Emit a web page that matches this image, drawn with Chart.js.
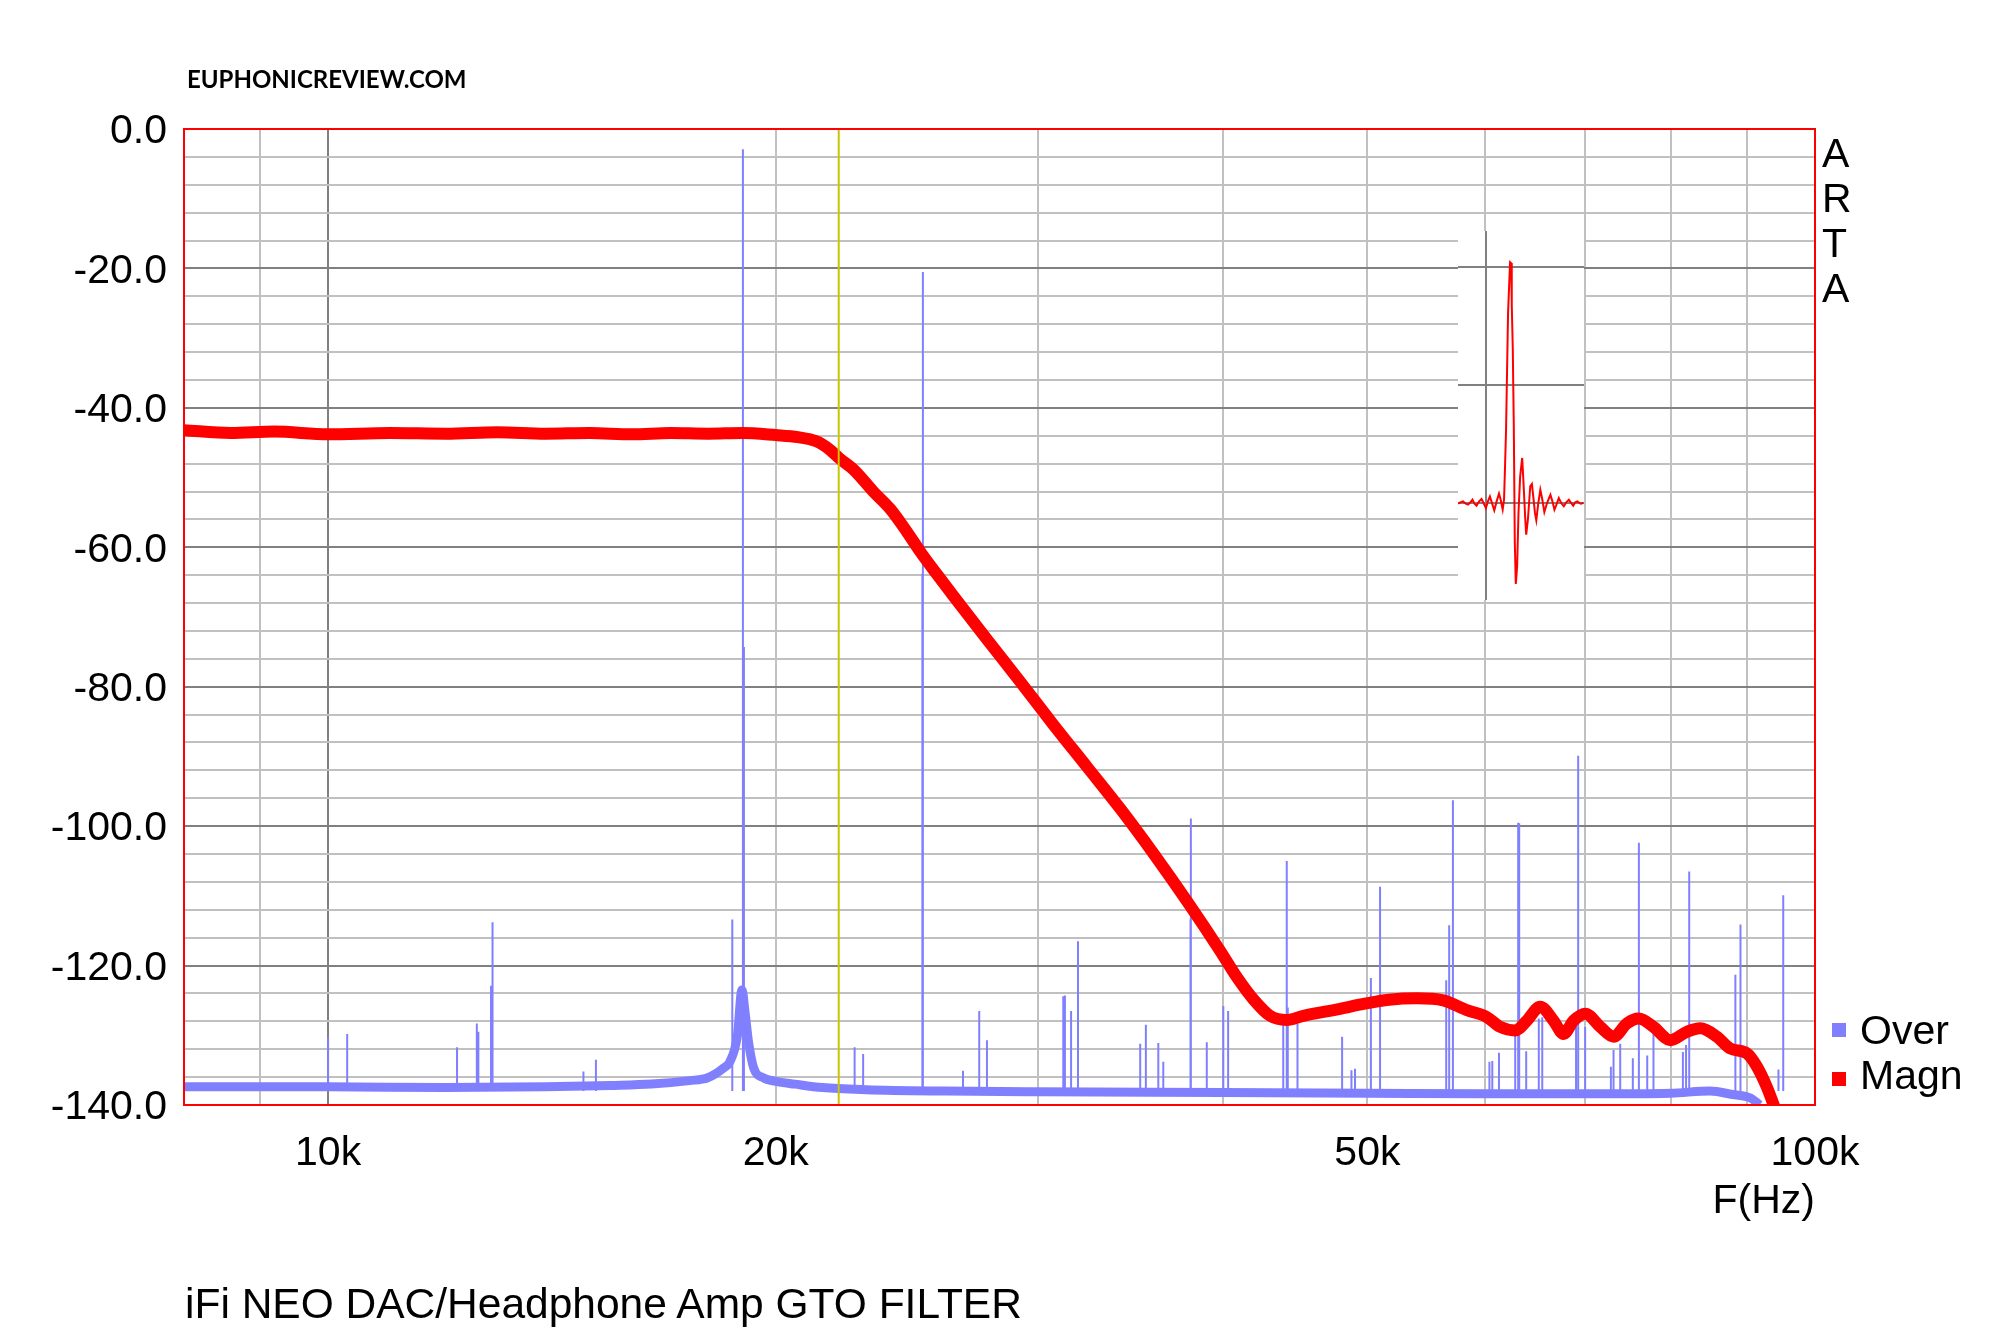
<!DOCTYPE html>
<html><head><meta charset="utf-8">
<script src="https://cdn.jsdelivr.net/npm/chart.js@4.4.1/dist/chart.umd.min.js"></script>
<style>
html,body{margin:0;padding:0;background:#fff;}
#wrap{position:relative;width:2000px;height:1331px;overflow:hidden;background:#fff;}
.t{position:absolute;font-family:"Liberation Sans",Arial,sans-serif;color:#000;white-space:nowrap;line-height:1;}
.sq{position:absolute;width:14px;height:14px;}
</style></head><body>
<div id="wrap">
<canvas id="main" width="2000" height="1331" style="position:absolute;left:0;top:0;"></canvas>
<canvas id="inset" width="126" height="369" style="position:absolute;left:1458px;top:231px;"></canvas>
<div class="t" style="left:187px;top:67px;font-family:Lato,'Open Sans',sans-serif;font-weight:700;font-size:24px;">EUPHONICREVIEW.COM</div>
<div class="t" style="left:1822px;top:131px;font-size:41px;line-height:45px;">A<br>R<br>T<br>A</div>
<div class="sq" style="left:1832px;top:1023px;background:#8080FF;"></div>
<div class="t" style="left:1860px;top:1010px;font-size:41px;">Over</div>
<div class="sq" style="left:1832px;top:1072px;background:#FF0000;"></div>
<div class="t" style="left:1860px;top:1055px;font-size:41px;">Magn</div>
<div class="t" style="right:185px;top:1179px;font-size:41px;">F(Hz)</div>
<div class="t" style="left:185px;top:1283px;font-size:42.5px;">iFi NEO DAC/Headphone Amp GTO FILTER</div>
</div>
<script>
// ---------- DATA ----------
const xGridFreq = [9000,10000,20000,30000,40000,50000,60000,70000,80000,90000,100000];
const xLabelFreq = [10000,20000,50000,100000];
const xLabelText = ['10k','20k','50k','100k'];
const cursorFreq = 22050;

// Magn (red) frequency response
const magnFreq = [8000,8600,9200,10000,11000,12000,13000,14000,15000,16000,17000,18000,19000,20000,20700,21300,21750,22060,22600,23260,23880,24510,25050,25700,26340,27740,29210,30760,32390,34100,35920,37820,39810,40860,41930,43000,44130,45290,47940,49700,51700,54000,56230,58330,60170,61420,62860,64010,65340,66700,67750,68810,70070,71710,73210,74740,76100,77890,79930,82000,83730,85900,87700,90000,91400,92800,94000];
const magnDb   = [-43.2,-43.6,-43.4,-43.8,-43.6,-43.7,-43.5,-43.7,-43.6,-43.8,-43.6,-43.7,-43.6,-43.9,-44.2,-44.8,-46.0,-47.2,-49.0,-52.0,-54.5,-57.8,-60.8,-64.0,-67.0,-73.2,-79.3,-85.5,-91.5,-97.5,-104.0,-110.8,-117.9,-121.7,-124.9,-127.2,-127.8,-127.2,-126.2,-125.5,-124.9,-124.7,-125.0,-126.4,-127.4,-128.8,-129.3,-127.9,-125.9,-127.9,-129.8,-127.9,-126.9,-128.8,-130.2,-128.3,-127.6,-128.8,-130.7,-129.5,-129.0,-130.2,-131.9,-132.6,-134.5,-137.4,-140.5];

// Over (blue) noise floor
const overFreq = [8000,10000,12000,14000,15500,16500,17500,18000,18450,18630,18850,18980,19080,19180,19330,19620,20000,20600,21500,23000,26000,30000,40000,50000,60000,70000,80000,85000,88000,90500,91800];
const overDb   = [-137.4,-137.4,-137.5,-137.4,-137.2,-137.0,-136.5,-136.1,-134.7,-133.8,-130.0,-123.5,-127.0,-131.1,-134.7,-136.1,-136.6,-137.0,-137.5,-137.8,-138.0,-138.1,-138.2,-138.3,-138.4,-138.4,-138.3,-138.0,-138.5,-139.0,-140.0];

// Over (blue) discrete spikes
const spikeFreq = [10000,10300,12210,12590,12620,12870,12900,14850,15140,18700,19010,19040,22600,22900,25100,25120,26730,27410,27740,31220,31300,31600,31940,35170,35480,36170,36450,38020,38040,38990,40000,40300,43890,44130,44200,44870,48080,48780,49050,50270,50990,56490,56750,57080,60400,60670,61300,62860,63150,63250,63940,65200,65550,69070,69300,70050,72900,73200,73960,75420,76130,77120,77870,81500,81900,82300,88400,89100,94500,95200];
const spikeDb   = [-130.3,-129.8,-131.7,-128.3,-129.5,-122.9,-113.8,-135.2,-133.5,-113.4,-2.9,-74.3,-131.7,-132.7,-63.8,-20.5,-135.1,-126.5,-130.7,-124.4,-124.3,-126.5,-116.5,-131.2,-128.5,-131.1,-133.8,-113.4,-98.9,-131.0,-125.8,-126.5,-128.5,-105.0,-126.0,-128.3,-130.2,-135.0,-134.8,-121.8,-108.7,-122.1,-114.2,-96.3,-133.8,-133.7,-132.5,-129.8,-99.5,-99.6,-132.3,-127.6,-127.4,-128.6,-89.9,-128.8,-134.5,-132.1,-131.2,-133.3,-102.4,-132.9,-129.5,-132.4,-131.4,-106.5,-121.3,-114.1,-134.9,-109.9];
const spikeBase = -138;

// Inset impulse response
const impulseT = [175,182,190,198,205,212,218,224,230,238,245,251,258,264,270,276,283,290,297,302,308,312,315,318,321,324,327,330,333,335,338,341,344,347,351,355,360,366,370,375,378,383,390,395,400,404,408,414,420,426,432,440,450,456,462,468,475,482,490,497,505,512,518,524,530,540,548];
const impulseV = [-0.003,0.003,0.007,-0.003,-0.007,0.003,0.014,-0.003,-0.011,0.007,0.017,0,-0.021,0.007,0.028,0,-0.031,0.007,0.040,0.014,-0.028,0.014,0.155,0.311,0.558,0.805,0.915,1.021,1.017,0.840,0.657,0.336,-0.162,-0.343,-0.268,-0.042,0.113,0.191,0.085,-0.064,-0.134,-0.071,0.071,0.081,0.014,-0.042,-0.073,0,0.056,0.014,-0.038,0,0.035,0.007,-0.028,-0.007,0.021,0,-0.014,0.003,0.014,0,-0.011,0.003,0.007,-0.003,0];
const insetXGrid = [258];
const insetYGrid = [0,0.5,1.0];

// ---------- BUILD ----------
const toPts = (xs, ys) => xs.map((x,i)=>({x:x, y:ys[i]}));
const spikePts = [];
spikeFreq.forEach((f,i)=>{ spikePts.push({x:f,y:spikeBase},{x:f,y:spikeDb[i]},{x:f,y:null}); });

const plotBorder = {
  id:'plotBorder',
  afterDraw(chart){
    const {ctx, chartArea:a} = chart;
    ctx.save(); ctx.strokeStyle='#FF0000'; ctx.lineWidth=2;
    ctx.strokeRect(a.left, a.top, a.right-a.left, a.bottom-a.top);
    ctx.restore();
  }
};
const whiteBg = {
  id:'whiteBg',
  beforeDraw(chart){ const c=chart.ctx; c.save(); c.fillStyle='#fff'; c.fillRect(0,0,chart.width,chart.height); c.restore(); }
};
const tickFont = {family:"'Liberation Sans', Arial, sans-serif", size:41};

new Chart(document.getElementById('main'), {
  type:'line',
  data:{datasets:[
    {label:'cursor', data:[{x:cursorFreq,y:0},{x:cursorFreq,y:-140}], borderColor:'#C8C400', borderWidth:2, pointRadius:0, order:0, clip:0},
    {label:'Magn', data:toPts(magnFreq,magnDb), borderColor:'#FF0000', borderWidth:12, pointRadius:0, cubicInterpolationMode:'monotone', order:1, clip:0, borderJoinStyle:'round'},
    {label:'Over spikes', data:spikePts, borderColor:'#8080FF', borderWidth:2, pointRadius:0, spanGaps:false, order:2, clip:0},
    {label:'Over', data:toPts(overFreq,overDb), borderColor:'#8080FF', borderWidth:9, pointRadius:0, cubicInterpolationMode:'monotone', order:3, clip:0}
  ]},
  options:{
    responsive:false, animation:false, devicePixelRatio:1,
    layout:{padding:{left:0, top:129, right:185, bottom:0}},
    plugins:{legend:{display:false}, tooltip:{enabled:false}},
    scales:{
      x:{type:'logarithmic', min:8000, max:100000,
        afterFit:s=>{s.height=226;},
        afterBuildTicks:s=>{s.ticks = xGridFreq.map(v=>({value:v}));},
        ticks:{autoSkip:false, maxRotation:0, padding:24, color:'#000', font:tickFont,
          callback:(v)=>{const i=xLabelFreq.indexOf(v); return i>=0 ? xLabelText[i] : '';}},
        grid:{drawTicks:false, lineWidth:2, color:(c)=> (c.tick && c.tick.value===10000) ? '#808080' : '#C0C0C0'},
        border:{display:false}
      },
      y:{type:'linear', min:-140, max:0,
        afterFit:s=>{s.width=184;},
        ticks:{stepSize:4, autoSkip:false, padding:17, labelOffset:3, color:'#000', font:tickFont,
          callback:(v)=>{const r=Math.round(v); return r%20===0 ? (r===0 ? '0.0' : r.toFixed(1)) : '';}},
        grid:{drawTicks:false, lineWidth:2, color:(c)=> (c.tick && Math.round(c.tick.value)%20===0) ? '#808080' : '#C0C0C0'},
        border:{display:false}
      }
    }
  },
  plugins:[plotBorder]
});

new Chart(document.getElementById('inset'), {
  type:'line',
  data:{datasets:[{data:toPts(impulseT,impulseV), borderColor:'#FF0000', borderWidth:2, pointRadius:0, tension:0}]},
  options:{
    responsive:false, animation:false, devicePixelRatio:1,
    layout:{padding:0},
    plugins:{legend:{display:false}, tooltip:{enabled:false}},
    scales:{
      x:{type:'linear', min:175, max:550, afterFit:s=>{s.height=0;},
        afterBuildTicks:s=>{s.ticks = insetXGrid.map(v=>({value:v}));},
        ticks:{display:false}, grid:{color:'#808080', lineWidth:2, drawTicks:false}, border:{display:false}},
      y:{type:'linear', min:-0.411, max:1.153, afterFit:s=>{s.width=0;},
        afterBuildTicks:s=>{s.ticks = insetYGrid.map(v=>({value:v}));},
        ticks:{display:false}, grid:{color:'#808080', lineWidth:2, drawTicks:false}, border:{display:false}}
    }
  },
  plugins:[whiteBg]
});
</script>
</body></html>
